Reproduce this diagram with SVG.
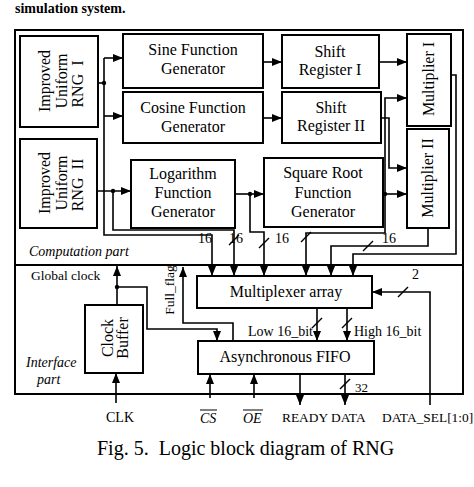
<svg xmlns="http://www.w3.org/2000/svg" width="474" height="487" viewBox="0 0 474 487">
<defs>
<style>
text{font-family:"Liberation Serif","Times New Roman",serif;fill:#000}
.b{font-size:16px}
.s{font-size:14px}
.i{font-style:italic}
.box{fill:#fff;stroke:#000;stroke-width:2}
.w{fill:none;stroke:#000;stroke-width:1.6}
.sl{fill:none;stroke:#000;stroke-width:1.4}
.dot{fill:#000}
</style>
<marker id="ar" markerUnits="userSpaceOnUse" markerWidth="10" markerHeight="8" refX="10" refY="4" orient="auto">
<path d="M0,0 L10,4 L0,8 z" fill="#000"/>
</marker>
</defs>
<rect width="474" height="487" fill="#fff"/>
<text x="15" y="13" style="font-size:14px;font-weight:bold">simulation system.</text>

<g id="frame">
<rect x="15" y="30" width="448" height="364" fill="none" stroke="#000" stroke-width="2"/>
<line x1="15" y1="265" x2="463" y2="265" stroke="#000" stroke-width="1.8"/>
<text x="29" y="256" class="i" style="font-size:14px">Computation part</text>
<text x="31" y="280" style="font-size:13.5px">Global clock</text>
<text x="26" y="367" class="i s">Interface</text>
<text x="37" y="384" class="i s">part</text>
</g>

<g id="connectors">
<path class="w" d="M98,83 H104"/>
<path class="w" d="M104,58 H123" marker-end="url(#ar)"/>
<path class="w" d="M104,116 H123" marker-end="url(#ar)"/>
<path class="w" d="M104,58 V235 H212 V276" marker-end="url(#ar)"/>
<circle class="dot" cx="104" cy="83" r="2.2"/>
<path class="w" d="M97,191 H131" marker-end="url(#ar)"/>
<path class="w" d="M113,191 V230 H234 V276" marker-end="url(#ar)"/>
<circle class="dot" cx="113" cy="191" r="2.2"/>
<path class="w" d="M263,62 H282" marker-end="url(#ar)"/>
<path class="w" d="M263,118 H282" marker-end="url(#ar)"/>
<path class="w" d="M379,62 H407" marker-end="url(#ar)"/>
<path class="w" d="M381,118 H389 V168 H407" marker-end="url(#ar)"/>
<path class="w" d="M235,194 H264" marker-end="url(#ar)"/>
<path class="w" d="M250,194 V232 H264 V276" marker-end="url(#ar)"/>
<circle class="dot" cx="250" cy="194" r="2.2"/>
<path class="w" d="M383,194 H407" marker-end="url(#ar)"/>
<path class="w" d="M385,194 V98 H407" marker-end="url(#ar)"/>
<path class="w" d="M385,194 V233 H306 V276" marker-end="url(#ar)"/>
<circle class="dot" cx="385" cy="194" r="2.2"/>
<path class="w" d="M428,228 V246 H331 V276" marker-end="url(#ar)"/>
<path class="w" d="M451,75 H456 V254 H353 V276" marker-end="url(#ar)"/>
<path class="sl" d="M229,245 L239,235 M259,248 L269,238 M301,242 L311,232 M363,251 L373,241"/>
<text x="198" y="243" class="s">16</text>
<text x="229" y="243" class="s">16</text>
<text x="275" y="243" class="s">16</text>
<text x="382" y="243" class="s">16</text>

<path class="w" d="M117,305 V266" marker-end="url(#ar)"/>
<path class="w" d="M117,287 H147 V329 H217 V341" marker-end="url(#ar)"/>
<circle class="dot" cx="117" cy="287" r="2.2"/>
<path class="w" d="M233,341 V323 H183 V267" marker-end="url(#ar)"/>
<text transform="translate(174,290) rotate(-90)" text-anchor="middle" style="font-size:13.5px">Full_flag</text>
<path class="w" d="M317,308 V341" marker-end="url(#ar)"/>
<path class="w" d="M347,308 V341" marker-end="url(#ar)"/>
<path class="sl" d="M312,328 L322,318 M342,328 L352,318"/>
<text x="248" y="336" class="s">Low 16_bit</text>
<text x="354" y="336" class="s">High 16_bit</text>
<path class="w" d="M430,405 V292 H372" marker-end="url(#ar)"/>
<path class="sl" d="M398,297 L408,287"/>
<text x="412" y="279" class="s">2</text>
<path class="w" d="M300,374 V405" marker-end="url(#ar)"/>
<path class="w" d="M345,374 V405" marker-end="url(#ar)"/>
<path class="sl" d="M340,389 L350,379"/>
<text x="355" y="392" style="font-size:13px">32</text>
<path class="w" d="M210,398 V374" marker-end="url(#ar)"/>
<path class="w" d="M254,398 V374" marker-end="url(#ar)"/>
<path class="w" d="M116,403 V373" marker-end="url(#ar)"/>
</g>

<g id="rng1"><rect class="box" x="20" y="36" width="78" height="91"/>
<text class="b" text-anchor="middle" transform="translate(50,81) rotate(-90)">Improved</text>
<text class="b" text-anchor="middle" transform="translate(67,81) rotate(-90)">Uniform</text>
<text class="b" text-anchor="middle" transform="translate(83,84) rotate(-90)" style="white-space:pre">RNG  I</text></g>
<g id="rng2"><rect class="box" x="20" y="139" width="77" height="89"/>
<text class="b" text-anchor="middle" transform="translate(50,183) rotate(-90)">Improved</text>
<text class="b" text-anchor="middle" transform="translate(67,183) rotate(-90)">Uniform</text>
<text class="b" text-anchor="middle" transform="translate(83,185) rotate(-90)" style="white-space:pre">RNG  II</text></g>
<g id="sine"><rect class="box" x="123" y="34" width="140" height="54"/>
<text class="b" x="193" y="55" text-anchor="middle">Sine Function</text>
<text class="b" x="193" y="74" text-anchor="middle">Generator</text></g>
<g id="cosine"><rect class="box" x="123" y="92" width="140" height="51"/>
<text class="b" x="193" y="113" text-anchor="middle">Cosine Function</text>
<text class="b" x="193" y="132" text-anchor="middle">Generator</text></g>
<g id="log"><rect class="box" x="131" y="160" width="104" height="68"/>
<text class="b" x="183" y="179" text-anchor="middle">Logarithm</text>
<text class="b" x="183" y="198" text-anchor="middle">Function</text>
<text class="b" x="183" y="217" text-anchor="middle">Generator</text></g>
<g id="sr1"><rect class="box" x="282" y="35" width="97" height="53"/>
<text class="b" x="330" y="57" text-anchor="middle">Shift</text>
<text class="b" x="330" y="75" text-anchor="middle">Register I</text></g>
<g id="sr2"><rect class="box" x="282" y="92" width="99" height="51"/>
<text class="b" x="331" y="113" text-anchor="middle">Shift</text>
<text class="b" x="331" y="131" text-anchor="middle">Register II</text></g>
<g id="sqrt"><rect class="box" x="264" y="158" width="119" height="69"/>
<text class="b" x="323" y="178" text-anchor="middle">Square Root</text>
<text class="b" x="323" y="198" text-anchor="middle">Function</text>
<text class="b" x="323" y="217" text-anchor="middle">Generator</text></g>
<g id="mult1"><rect class="box" x="407" y="34" width="44" height="92"/>
<text class="b" text-anchor="middle" transform="translate(434,79) rotate(-90)">Multiplier I</text></g>
<g id="mult2"><rect class="box" x="407" y="129" width="42" height="99"/>
<text class="b" text-anchor="middle" transform="translate(433,178) rotate(-90)">Multiplier II</text></g>
<g id="mux"><rect class="box" x="197" y="276" width="175" height="32"/>
<text class="b" x="286" y="297" text-anchor="middle">Multiplexer array</text></g>
<g id="fifo"><rect class="box" x="198" y="341" width="176" height="33"/>
<text class="b" x="285" y="362" text-anchor="middle">Asynchronous FIFO</text></g>
<g id="clkbuf"><rect class="box" x="85" y="305" width="58" height="68"/>
<text class="b" text-anchor="middle" transform="translate(113,338) rotate(-90)">Clock</text>
<text class="b" text-anchor="middle" transform="translate(128,338) rotate(-90)">Buffer</text></g>

<g id="pins">
<text x="106" y="422" class="s">CLK</text>
<text x="200" y="423" class="s i">CS</text>
<line x1="200" y1="410" x2="217" y2="410" stroke="#000" stroke-width="1"/>
<text x="243" y="423" class="s i">OE</text>
<line x1="243" y1="410" x2="263" y2="410" stroke="#000" stroke-width="1"/>
<text x="282" y="422" style="font-size:13.4px">READY DATA</text>
<text x="382" y="422" style="font-size:13.4px">DATA_SEL[1:0]</text>
</g>
<text x="97" y="455" style="font-size:20px;white-space:pre">Fig. 5.  Logic block diagram of RNG</text>
</svg>
